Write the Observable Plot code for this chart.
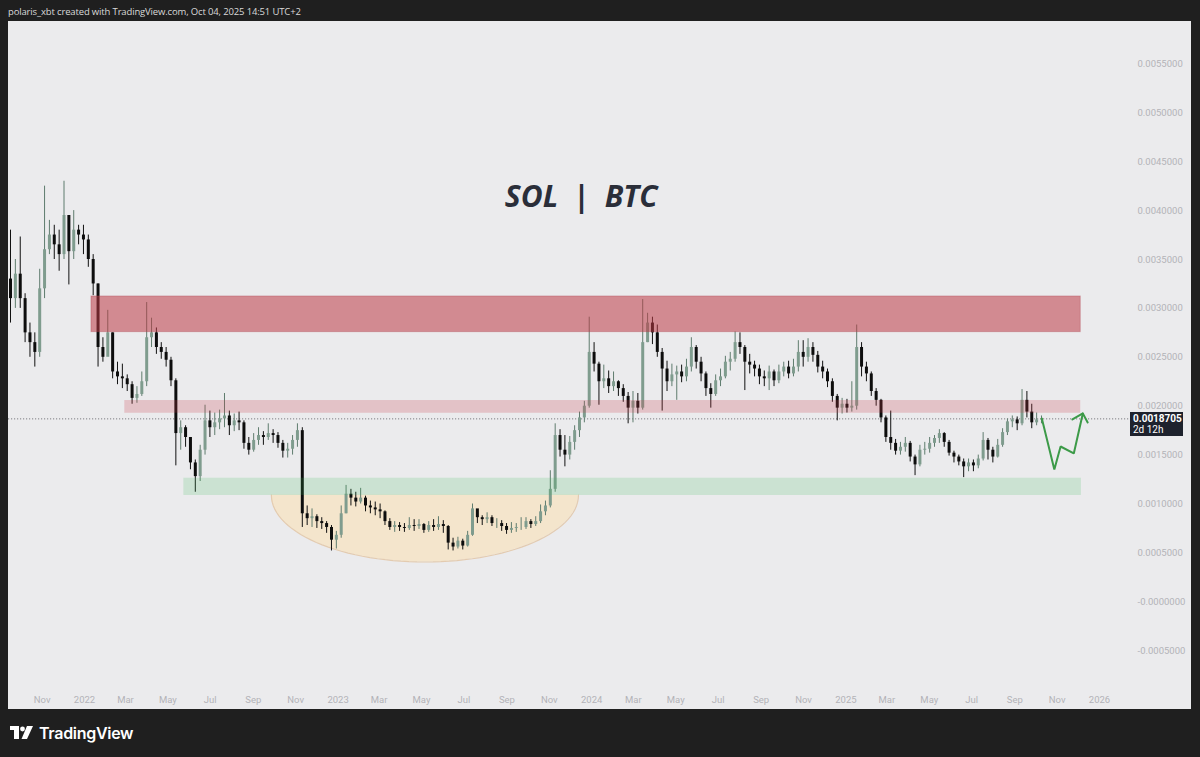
<!DOCTYPE html>
<html><head><meta charset="utf-8">
<script src="https://cdn.jsdelivr.net/npm/d3@7"></script>
<script src="https://cdn.jsdelivr.net/npm/@observablehq/plot@0.6"></script>
<style>
html,body{margin:0;padding:0;background:#1f1f1f;width:1200px;height:757px;overflow:hidden;font-family:"Open Sans",Roboto,sans-serif}
#hdr{position:absolute;left:8px;top:5px;font-size:9.5px;color:#d9d9d9;white-space:nowrap;letter-spacing:-0.15px}
#chart{position:absolute;left:8px;top:21px;width:1183px;height:688px;background:#ebebed;overflow:hidden}
#chart svg{position:absolute;left:0;top:0}
#price{position:absolute;left:1122px;width:53px;height:24px;background:#1e222d;color:#fff;font-family:Roboto,"Open Sans",sans-serif;font-size:10px;line-height:11px;padding:1px 0 0 3px;box-sizing:border-box}
#price b{font-weight:700;display:block}
#foot{position:absolute;left:10px;top:723px;height:20px;display:flex;align-items:center;color:#fff;font-family:Inter,Roboto,sans-serif;font-weight:600;font-size:16px;letter-spacing:-0.3px}
#foot svg{margin-right:5px}
</style></head>
<body>
<div id="hdr">polaris_xbt created with TradingView.com, Oct 04, 2025 14:51 UTC+2</div>
<div id="chart"></div>
<div id="foot"><svg width="24" height="14" viewBox="0 0 24 14"><rect x="0" y="0" width="9" height="4" fill="#fff"/><rect x="4" y="0" width="5" height="13" fill="#fff"/><circle cx="12.5" cy="3" r="2.4" fill="#fff"/><polygon points="17,0 23,0 17,13 11.5,13" fill="#fff"/></svg>TradingView</div>
<script>
// ---- data (prices in units of 1e-4 BTC), weekly candles starting 2021-09-13 ----
const weekStart = new Date(Date.UTC(2021, 8, 13));
const firstOpen = 33;
const closes = [31,33.5,31,27.5,26.5,25.5,32,36,37.5,36.5,35.5,39.5,35.8,38,37.5,37,35,32.5,26,25,
27.5,23.5,23,22.8,22.2,20.8,21.2,22.5,27,27.5,26,25.5,24.7,22.6,17.2,17.8,16.8,14.2,12.8,15.5,
18.5,17.8,18.3,18.7,19,18,18.5,18.3,16.2,15.5,16.5,17,16.8,17.2,17,16.2,15.4,15.6,16.5,17.5,
9,8.5,8.7,8.2,8,7.6,6.3,6.8,9,11,10.6,10.2,10.6,9.8,9.6,9.4,9.2,8.2,7.6,7.8,
7.6,7.5,7.8,7.7,7.9,7.3,7.8,7.6,7.9,7.7,6,5.6,6.2,5.7,6.8,9.5,8.6,8.4,8.6,8,
8,7.7,7.3,7.5,7.6,7.6,8.2,7.9,8.2,9.2,9.8,11.5,17,15.5,15,16.3,17.5,18.8,20,25.5,
24.3,22.5,22.8,22,22.5,21.8,21,19.8,20.5,19.8,26.5,28.5,27.5,25.5,23.8,22.5,23.2,23.5,23,24,
26,24.5,23.3,21.8,21.2,22.6,23,24.5,24.8,26.5,26,24.5,24.2,23.8,23,22.8,23.5,22.6,23.5,24,
23.3,24,25.5,25,26,25.2,24,23.5,22.5,21,19.8,20.2,19.8,20,26,24,23.3,21.5,20.6,18.8,
16.8,16.2,15.4,15.8,16.2,14.8,14,15.5,15.6,16.2,16.7,17.2,16.3,15.2,14.8,14.3,13.8,14.2,13.9,14.6,
16.5,15.5,14.8,16,17.3,18.4,18.6,18.2,20.6,19.4,18.3,18.6,18.705];
const highs = [38,35,37.3,31.5,28.5,27.5,34,42.5,39,38.5,38,43,38.5,40,38.5,38.5,37.5,35.5,32.5,27,
29.8,27.5,24.5,24.3,23.2,22.5,22,23.5,30.6,29,28,26.5,26,25,22.8,18.5,18,16.8,14.5,16,
20.1,19.5,19.3,19.6,21.3,19.5,19.2,19.4,18.5,16.8,17.2,17.8,17.4,18.2,17.6,17.3,16.5,16.2,17,18.2,
17.8,9.8,9.5,8.9,8.6,8.2,7.8,7.2,9.8,11.9,11.5,11.2,11.6,10.8,10.3,10.2,10,9.3,8.5,8.2,
8.1,8,8.6,8.4,8.4,8,8.2,8.4,8.7,8.3,7.8,6.5,6.6,6.4,7.2,10,9.3,8.8,9.1,8.8,
8.5,8.3,8,8.1,8,8.6,8.6,8.4,8.7,9.9,10.3,13.4,18.2,17.6,17,16.9,18,19.4,20.5,29.1,
26.5,24.5,24.2,23.6,23.5,22.6,22.2,21.4,21.5,21.3,30.9,29.5,29.1,28.3,25.9,24.6,24.3,24.1,24.2,24.8,
27,26.2,25,23.5,22.3,23.2,23.8,25.1,25.5,27.6,27.5,26.2,25.3,24.6,24.2,23.6,24.1,23.7,24.2,24.5,
24.6,24.8,26.7,26.7,26.9,26.5,25.6,24.6,23.8,22.8,21.2,20.8,20.7,22.5,28.3,26.5,24.5,23.5,21.8,20.7,
19,19.5,16.6,16.3,16.8,16.4,15,16,16.3,16.8,17,17.6,17.3,16.5,15.4,15,14.6,14.6,14.5,15,
17.3,16.7,15.8,16.6,17.7,18.7,19,18.9,21.7,21.5,20.2,19.3,19];
const lows = [28.5,30,30,26.5,25,24,25,31,35.5,35,33.8,35,32.4,35,36.5,35.5,34.2,31.3,24,24.5,
25.5,22.8,22.2,21.8,21.5,20.2,20.3,21,22,26,25.3,24.8,24,22,13.9,15.5,15.8,13.5,11.2,12.3,
15,16.8,17,17.6,17.8,17,17.4,17.5,15.6,15,15.3,16,16,16.5,16.2,15.7,14.7,14.7,15,15.8,
7.6,7.8,7.6,7.5,7.4,7,5.2,5.4,6.5,9,9.8,9.7,10,9.2,9,8.8,8.5,7.8,7.3,7.1,
7.2,7.1,7.3,7.2,7.4,7,7.1,7.2,7.3,7,5.3,5.2,5.4,5.3,5.6,6.7,8,7.8,8,7.7,
7.5,7.2,6.9,7,7.1,7.3,7.4,7.5,7.7,8,8.8,9.6,11.2,14.8,13.8,14.5,15.5,16.8,18.3,19.8,
23.5,20.1,21.8,21.3,21.5,21,20.4,18.2,18.3,19.2,19.6,26.5,26.3,25,19.5,21.5,22,20.6,22.4,22.5,
23.5,23.8,22.5,21,19.8,21,22,22.8,23.6,24.5,25.3,21.6,23.3,23,22.2,22,21.6,22,22.3,23,
22.8,23,23.5,24,24.5,24.5,23.4,22.8,21.9,20.4,18.5,19.2,19.3,19.4,19.6,23,22.5,21,20,18.3,
16.3,15.5,15,15,15.3,14.3,12.9,13.8,15,15.2,15.8,16.2,15.8,14.9,14.2,13.9,12.7,13.3,13.3,13.6,
14.4,14.5,14.2,14.7,15.8,17,17.8,17.5,18,18.8,17.7,18,18.2];

// horizontal zones (dates, price bounds in BTC)
const supplyZone = [{x1: "2022-01-11", x2: "2025-12-05", y1: 0.002757, y2: 0.003122}];
const pivotZone  = [{x1: "2022-02-28", x2: "2025-12-05", y1: 0.001928, y2: 0.002058}];
const demandZone = [{x1: "2022-05-24", x2: "2025-12-06", y1: 0.001087, y2: 0.001264}];
// rounded-bottom (bowl) annotation: start, end, rim price, bottom price
const bowl = {start: "2022-09-27", end: "2023-12-13", rim: 0.00109, bottom: 0.000407};
// projected path (green arrow)
const projDates  = ["2025-10-10", "2025-10-28", "2025-11-06", "2025-11-25", "2025-12-08"];
const projValues = [0.001875, 0.001353, 0.001588, 0.001517, 0.001926];
const headDates  = ["2025-11-23", "2025-12-08", "2025-12-15"];
const headValues = [0.001865, 0.001926, 0.001834];
const lastPrice = 0.0018705;
const countdown = "2d 12h";
const yTicks = [-0.0005, 0, 0.0005, 0.001, 0.0015, 0.002, 0.0025, 0.003, 0.0035, 0.004, 0.0045, 0.005, 0.0055];
const monthLabels = ["Jan","Feb","Mar","Apr","May","Jun","Jul","Aug","Sep","Oct","Nov","Dec"];
const title = "SOL\u2002|\u2002BTC";
const titlePos = {date: "2023-12-17", value: 0.00414};

// ---- build tables ----
const candles = closes.map((c, i) => ({
  date: d3.utcHour.offset(d3.utcDay.offset(weekStart, 7 * i), 84),
  open: (i === 0 ? firstOpen : closes[i - 1]) * 1e-4,
  close: c * 1e-4, high: highs[i] * 1e-4, low: lows[i] * 1e-4
}));
const up = d => d.close >= d.open;
const dn = d => d.close < d.open;
const toRect = z => z.map(d => ({x1: new Date(d.x1), x2: new Date(d.x2), y1: d.y1, y2: d.y2}));
const b0 = +new Date(bowl.start), b1 = +new Date(bowl.end);
const bowlPts = d3.range(0, 61).map(k => {
  const t = Math.PI * k / 60;
  return {date: new Date((b0 + b1) / 2 - (b1 - b0) / 2 * Math.cos(t)), v: bowl.rim - (bowl.rim - bowl.bottom) * Math.sin(t)};
});
const proj = projDates.map((d, i) => ({date: new Date(d), v: projValues[i]}));
const head = headDates.map((d, i) => ({date: new Date(d), v: headValues[i]}));
const xTicks = d3.utcMonth.every(2).range(new Date("2021-10-15"), new Date("2026-01-02"));
const fmtX = d => d.getUTCMonth() === 0 ? String(d.getUTCFullYear()) : monthLabels[d.getUTCMonth()];
const fmtY = d => d === 0 ? "-0.0000000" : d.toFixed(7);

const plot = Plot.plot({
  width: 1183, height: 688,
  marginLeft: 0, marginTop: 0, marginRight: 57, marginBottom: 22,
  style: {background: "transparent", fontFamily: "Roboto, 'Open Sans', sans-serif", fontSize: "9.5px", color: "#b3b3b8"},
  x: {type: "utc", domain: [new Date("2022-01-01"), new Date("2026-01-01")], range: [76, 1091]},
  y: {domain: [-0.0005, 0.0055], range: [629.2, 42.4]},
  marks: [
    Plot.axisX({ticks: xTicks, tickFormat: fmtX, tickSize: 0, anchor: "bottom", label: null, fill: "#b3b3b8"}),
    Plot.axisY({ticks: yTicks, tickFormat: fmtY, tickSize: 0, anchor: "right", label: null, fill: "#b3b3b8", dx: -6}),
    Plot.areaY(bowlPts, {x: "date", y1: bowl.rim, y2: "v", fill: "#f4e5cc", curve: "linear"}),
    Plot.line(bowlPts, {x: "date", y: "v", stroke: "#e3cbb0", strokeWidth: 1.2}),
    Plot.ruleY([lastPrice], {stroke: "#7d7d82", strokeDasharray: "1.2,1.8", strokeWidth: 1}),
    Plot.ruleX(candles, {filter: up, x: "date", y1: "low", y2: "high", stroke: "#5f7c6e", strokeWidth: 1}),
    Plot.ruleX(candles, {filter: dn, x: "date", y1: "low", y2: "high", stroke: "#111", strokeWidth: 1}),
    Plot.ruleX(candles, {filter: up, x: "date", y1: "open", y2: "close", stroke: "#7f9c8e", strokeWidth: 3}),
    Plot.ruleX(candles, {filter: dn, x: "date", y1: "open", y2: "close", stroke: "#0d0d0d", strokeWidth: 3}),
    Plot.rect(toRect(supplyZone), {x1: "x1", x2: "x2", y1: "y1", y2: "y2", fill: "rgb(190,58,70)", fillOpacity: 0.55, stroke: "rgb(175,70,80)", strokeOpacity: 0.35}),
    Plot.rect(toRect(pivotZone), {x1: "x1", x2: "x2", y1: "y1", y2: "y2", fill: "rgb(205,60,72)", fillOpacity: 0.23}),
    Plot.rect(toRect(demandZone), {x1: "x1", x2: "x2", y1: "y1", y2: "y2", fill: "rgb(60,190,90)", fillOpacity: 0.18}),
    Plot.line(proj, {x: "date", y: "v", stroke: "#3c9a48", strokeWidth: 2, strokeLinejoin: "miter"}),
    Plot.line(head, {x: "date", y: "v", stroke: "#3c9a48", strokeWidth: 2}),
    Plot.text([title], {x: () => new Date(titlePos.date), y: () => titlePos.value, text: d => d, fontSize: 30, fontWeight: "bold", fontStyle: "italic", fill: "#2a2e39", fontFamily: "'Open Sans', sans-serif"})
  ]
});
const chart = document.getElementById("chart");
chart.appendChild(plot);
const py = plot.scale("y").apply(lastPrice);
const lab = document.createElement("div");
lab.id = "price";
lab.style.top = (py - 6) + "px";
lab.innerHTML = "<b>" + lastPrice.toFixed(7) + "</b>" + countdown;
chart.appendChild(lab);
</script>
</body></html>
